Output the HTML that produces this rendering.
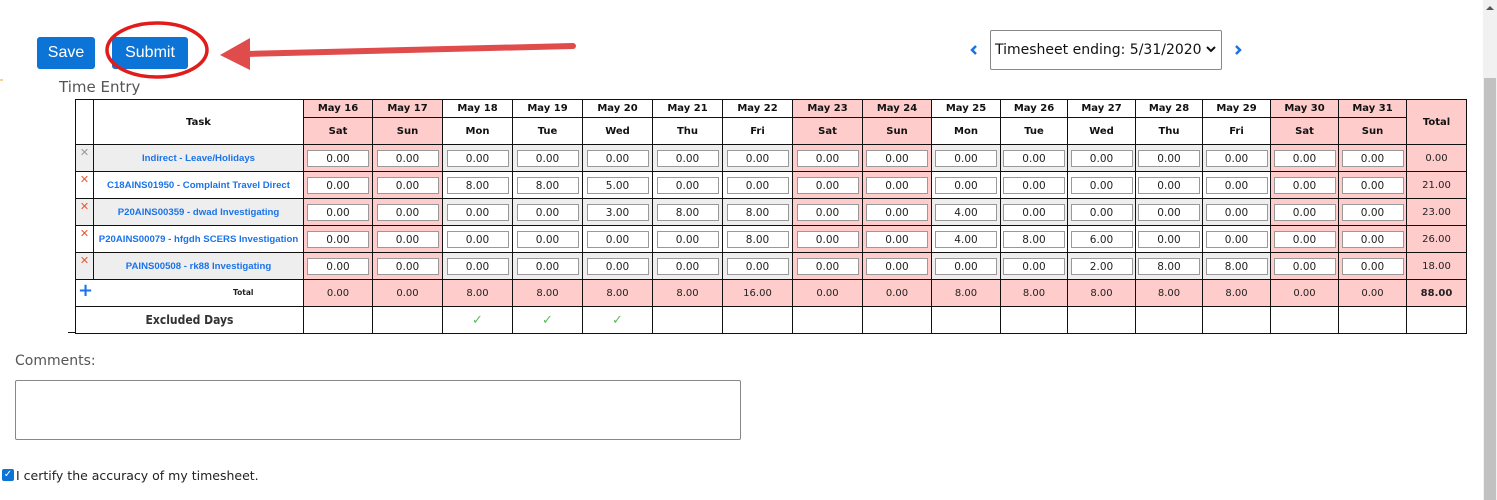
<!DOCTYPE html>
<html><head><meta charset="utf-8"><style>
body{margin:0;width:1497px;height:500px;background:#fff;position:relative;overflow:hidden;font-family:"DejaVu Sans","Liberation Sans",sans-serif;}
.btn{position:absolute;top:37px;height:32px;background:#0b74d6;color:#fff;border-radius:3px;font-family:"Liberation Sans",sans-serif;font-size:16px;line-height:32px;text-align:center}
table{position:absolute;left:75px;top:99px;width:1392px;border-collapse:collapse;table-layout:fixed;font-size:10px;}
td{border:1px solid #111;padding:0;text-align:center;height:26px;color:#222;white-space:nowrap;overflow:hidden}
th{border:1px solid #111;padding:0;font-size:10px;font-weight:bold;color:#111}
.w{background:#fcc}
.g{background:#eee}
.t{color:#1a73e8;font-weight:bold;font-size:9.6px;font-family:"Liberation Sans",sans-serif}
.x{color:#e53;font-size:11px;vertical-align:top;line-height:16px}
.i{display:inline-block;width:62px;height:17px;border:1px solid #999;background:#fff;line-height:16px;font-size:10.5px;box-sizing:border-box}
.ck{color:#5cb85c;font-size:13px}
</style></head><body>
<div class="btn" style="left:37px;width:58px">Save</div>
<div class="btn" style="left:112px;width:76px">Submit</div>
<svg style="position:absolute;left:0;top:0" width="1497" height="500">
<ellipse cx="157" cy="50" rx="50" ry="27" fill="none" stroke="#e21b1b" stroke-width="3.5"/>
<line x1="573" y1="46" x2="245" y2="54" stroke="#e04b4b" stroke-width="6" stroke-linecap="round"/>
<polygon points="220,55 250,38 250,70" fill="#e04b4b"/>
<line x1="0" y1="80" x2="3" y2="80" stroke="#f0a040"/>
<polyline points="976,46 972,50 976,54" fill="none" stroke="#1a73e8" stroke-width="2.5"/>
<polyline points="1236,46 1240,50 1236,54" fill="none" stroke="#1a73e8" stroke-width="2.5"/>
<polyline points="1207,47 1211,51 1215,47" fill="none" stroke="#111" stroke-width="2"/>
</svg>
<div style="position:absolute;left:990px;top:30px;width:226px;height:38px;border:1px solid #888;border-radius:2px;font-family:'DejaVu Sans',sans-serif;font-size:14px;line-height:38px;padding-left:4px;color:#111;white-space:nowrap">Timesheet ending: 5/31/2020</div>
<div style="position:absolute;left:59px;top:78px;font-size:15px;color:#555;font-family:'DejaVu Sans',sans-serif">Time Entry</div>
<table>
<colgroup><col style="width:18px"><col style="width:210px"><col style="width:69px"><col style="width:70px"><col style="width:70px"><col style="width:70px"><col style="width:70px"><col style="width:70px"><col style="width:70px"><col style="width:70px"><col style="width:69px"><col style="width:69px"><col style="width:67px"><col style="width:68px"><col style="width:67px"><col style="width:68px"><col style="width:68px"><col style="width:68px"><col style="width:60px"></colgroup>
<tr style="height:18px"><th rowspan="2"></th><th rowspan="2">Task</th><th class="w">May 16</th><th class="w">May 17</th><th>May 18</th><th>May 19</th><th>May 20</th><th>May 21</th><th>May 22</th><th class="w">May 23</th><th class="w">May 24</th><th>May 25</th><th>May 26</th><th>May 27</th><th>May 28</th><th>May 29</th><th class="w">May 30</th><th class="w">May 31</th><th class="w" rowspan="2">Total</th></tr>
<tr style="height:27px"><th class="w">Sat</th><th class="w">Sun</th><th>Mon</th><th>Tue</th><th>Wed</th><th>Thu</th><th>Fri</th><th class="w">Sat</th><th class="w">Sun</th><th>Mon</th><th>Tue</th><th>Wed</th><th>Thu</th><th>Fri</th><th class="w">Sat</th><th class="w">Sun</th></tr>
<tr><td class="g x" style="color:#999">✕</td><td class="g t">Indirect - Leave/Holidays</td><td class="w"><span class="i">0.00</span></td><td class="w"><span class="i">0.00</span></td><td class="g"><span class="i">0.00</span></td><td class="g"><span class="i">0.00</span></td><td class="g"><span class="i">0.00</span></td><td class="g"><span class="i">0.00</span></td><td class="g"><span class="i">0.00</span></td><td class="w"><span class="i">0.00</span></td><td class="w"><span class="i">0.00</span></td><td class="g"><span class="i">0.00</span></td><td class="g"><span class="i">0.00</span></td><td class="g"><span class="i">0.00</span></td><td class="g"><span class="i">0.00</span></td><td class="g"><span class="i">0.00</span></td><td class="w"><span class="i">0.00</span></td><td class="w"><span class="i">0.00</span></td><td class="w">0.00</td></tr>
<tr><td class="x">✕</td><td class="t">C18AINS01950 - Complaint Travel Direct</td><td class="w"><span class="i">0.00</span></td><td class="w"><span class="i">0.00</span></td><td><span class="i">8.00</span></td><td><span class="i">8.00</span></td><td><span class="i">5.00</span></td><td><span class="i">0.00</span></td><td><span class="i">0.00</span></td><td class="w"><span class="i">0.00</span></td><td class="w"><span class="i">0.00</span></td><td><span class="i">0.00</span></td><td><span class="i">0.00</span></td><td><span class="i">0.00</span></td><td><span class="i">0.00</span></td><td><span class="i">0.00</span></td><td class="w"><span class="i">0.00</span></td><td class="w"><span class="i">0.00</span></td><td class="w">21.00</td></tr>
<tr><td class="g x">✕</td><td class="g t">P20AINS00359 - dwad Investigating</td><td class="w"><span class="i">0.00</span></td><td class="w"><span class="i">0.00</span></td><td class="g"><span class="i">0.00</span></td><td class="g"><span class="i">0.00</span></td><td class="g"><span class="i">3.00</span></td><td class="g"><span class="i">8.00</span></td><td class="g"><span class="i">8.00</span></td><td class="w"><span class="i">0.00</span></td><td class="w"><span class="i">0.00</span></td><td class="g"><span class="i">4.00</span></td><td class="g"><span class="i">0.00</span></td><td class="g"><span class="i">0.00</span></td><td class="g"><span class="i">0.00</span></td><td class="g"><span class="i">0.00</span></td><td class="w"><span class="i">0.00</span></td><td class="w"><span class="i">0.00</span></td><td class="w">23.00</td></tr>
<tr><td class="x">✕</td><td class="t">P20AINS00079 - hfgdh SCERS Investigation</td><td class="w"><span class="i">0.00</span></td><td class="w"><span class="i">0.00</span></td><td><span class="i">0.00</span></td><td><span class="i">0.00</span></td><td><span class="i">0.00</span></td><td><span class="i">0.00</span></td><td><span class="i">8.00</span></td><td class="w"><span class="i">0.00</span></td><td class="w"><span class="i">0.00</span></td><td><span class="i">4.00</span></td><td><span class="i">8.00</span></td><td><span class="i">6.00</span></td><td><span class="i">0.00</span></td><td><span class="i">0.00</span></td><td class="w"><span class="i">0.00</span></td><td class="w"><span class="i">0.00</span></td><td class="w">26.00</td></tr>
<tr><td class="g x">✕</td><td class="g t">PAINS00508 - rk88 Investigating</td><td class="w"><span class="i">0.00</span></td><td class="w"><span class="i">0.00</span></td><td class="g"><span class="i">0.00</span></td><td class="g"><span class="i">0.00</span></td><td class="g"><span class="i">0.00</span></td><td class="g"><span class="i">0.00</span></td><td class="g"><span class="i">0.00</span></td><td class="w"><span class="i">0.00</span></td><td class="w"><span class="i">0.00</span></td><td class="g"><span class="i">0.00</span></td><td class="g"><span class="i">0.00</span></td><td class="g"><span class="i">2.00</span></td><td class="g"><span class="i">8.00</span></td><td class="g"><span class="i">8.00</span></td><td class="w"><span class="i">0.00</span></td><td class="w"><span class="i">0.00</span></td><td class="w">18.00</td></tr>
<tr style="height:26px"><td colspan="2" style="text-align:left;position:relative"><span style="color:#1a73e8;font-size:18px;font-weight:bold;position:absolute;left:2px;top:0">+</span><span style="position:absolute;left:157px;top:8px;font-size:7.5px;font-weight:bold">Total</span></td><td class="w">0.00</td><td class="w">0.00</td><td class="w">8.00</td><td class="w">8.00</td><td class="w">8.00</td><td class="w">8.00</td><td class="w">16.00</td><td class="w">0.00</td><td class="w">0.00</td><td class="w">8.00</td><td class="w">8.00</td><td class="w">8.00</td><td class="w">8.00</td><td class="w">8.00</td><td class="w">0.00</td><td class="w">0.00</td><td class="w" style="font-weight:bold">88.00</td></tr>
<tr style="height:27px"><td colspan="2" style="font-family:'DejaVu Sans Condensed','DejaVu Sans',sans-serif;font-size:12px;font-weight:bold;color:#333">Excluded Days</td><td></td><td></td><td class="ck">✓</td><td class="ck">✓</td><td class="ck">✓</td><td></td><td></td><td></td><td></td><td></td><td></td><td></td><td></td><td></td><td></td><td></td><td></td></tr>
</table>
<div style="position:absolute;left:68px;top:332px;width:8px;height:1px;background:#111"></div>
<div style="position:absolute;left:15px;top:353px;font-size:14px;color:#555">Comments:</div>
<div style="position:absolute;left:15px;top:380px;width:724px;height:58px;border:1px solid #888;border-radius:2px"></div>
<div style="position:absolute;left:2px;top:469px;width:12px;height:12px;background:#0b74d6;border-radius:2px;color:#fff;font-size:10px;line-height:12px;text-align:center">✓</div>
<div style="position:absolute;left:16px;top:468px;font-size:12.5px;color:#222">I certify the accuracy of my timesheet.</div>
<div style="position:absolute;left:1483px;top:0;width:14px;height:500px;background:#f1f1f1"></div>
<div style="position:absolute;left:1484px;top:78px;width:12px;height:422px;background:#c1c1c1"></div>
<div style="position:absolute;left:1486px;top:6px;width:0;height:0;border-left:4px solid transparent;border-right:4px solid transparent;border-bottom:4px solid #555"></div>
</body></html>
